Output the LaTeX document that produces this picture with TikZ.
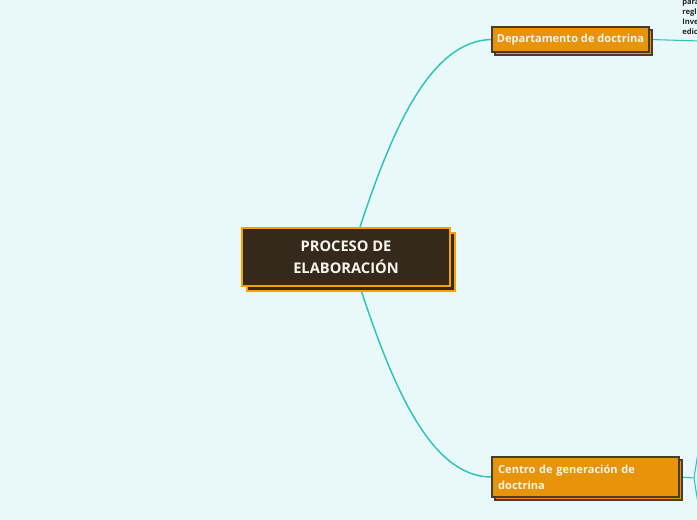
\documentclass[tikz,border=0pt]{standalone}
\usepackage{fontspec}
\setmainfont{Open Sans}
\usepackage{xcolor}
\usepackage{tikz}
\usetikzlibrary{positioning}
\usetikzlibrary{backgrounds}
\usetikzlibrary{shadows}

\definecolor{bgcyan}{HTML}{E9F9F9}
\definecolor{linkteal}{HTML}{2EC4BE}
\definecolor{maindark}{HTML}{35291C}
\definecolor{mainorange}{HTML}{F7A100}
\definecolor{suborange}{HTML}{E8940A}
\definecolor{subedge}{HTML}{4A3C2A}
\definecolor{labelwhite}{HTML}{F8F4EC}

\tikzset{
  mainbox/.style={draw=mainorange, fill=maindark, line width=1.5pt, text=labelwhite,
    font=\bfseries\fontsize{11}{16.5}\selectfont, align=center,
    minimum width=156pt, minimum height=43.5pt, inner sep=0pt,
    copy shadow={shadow xshift=3.75pt, shadow yshift=-3.75pt}},
  subbox/.style={draw=subedge, fill=suborange, line width=1.1pt, text=labelwhite,
    font=\bfseries\fontsize{8.3}{12}\selectfont, inner sep=0pt,
    copy shadow={shadow xshift=2.25pt, shadow yshift=-2.25pt}},
  link/.style={draw=linkteal, line width=0.8pt},
}

\begin{document}
\begin{tikzpicture}[x=0.75pt, y=-0.75pt]
\begin{scope}[on background layer]
\fill[bgcyan] (0,0) rectangle (697,520);
\end{scope}
\useasboundingbox (0,0) rectangle (697,520);

\node (main) at (346,257) [mainbox] {PROCESO DE\\ELABORACIÓN};
\node (dept) at (570.5,39.5) [subbox, minimum width=117.75pt, minimum height=18.75pt] {Departamento de doctrina};
\node (centre) at (585.5,477) [subbox, minimum width=140.25pt, minimum height=30pt,
  text width=131pt, align=left] {Centro de generación de\\doctrina};

\node (notes) at (682,17) [anchor=west, inner sep=0pt, align=left, text=black!85,
  font=\bfseries\fontsize{5.7}{7.5}\selectfont] {para\\regl\\Inve\\edic};

\coordinate (deptend) at (700,41);
\coordinate (fork) at (694,478);
\coordinate (forkup) at (700,440);
\coordinate (forkdown) at (700,516);

\begin{scope}[on background layer]
\draw[link, line width=1.1pt] ([xshift=10.5pt]main.north) .. controls (392,130) and (430,41) .. (dept.west);
\draw[link, line width=1.1pt] ([xshift=10.5pt]main.south) .. controls (392,384) and (430,477) .. (centre.west);
\draw[link] (dept.east) -- (deptend);
\draw[link] (centre.east) -- (fork);
\draw[link] (fork) -- (forkup);
\draw[link] (fork) -- (forkdown);
\end{scope}
\end{tikzpicture}
\end{document}
